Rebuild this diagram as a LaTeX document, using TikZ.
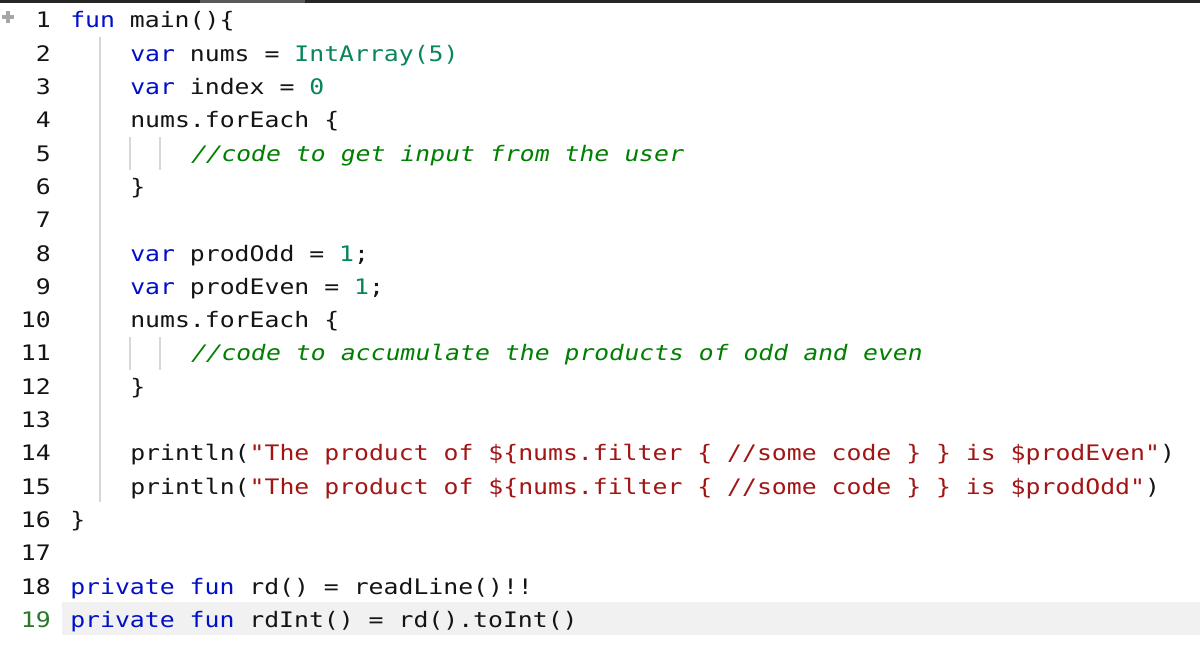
\documentclass[tikz,border=0pt]{standalone}
\usepackage{fontspec}
\newfontfamily\codefont[FakeStretch=1.162,WordSpace={1,0,0}]{DejaVu Sans Mono}
\newfontfamily\codeit[FakeStretch=1.162,WordSpace={1,0,0},FakeSlant=0.2]{DejaVu Sans Mono}
\definecolor{kw}{RGB}{0,16,200}
\definecolor{tl}{RGB}{9,134,88}
\definecolor{cm}{RGB}{0,128,0}
\definecolor{st}{RGB}{163,21,21}
\definecolor{tx}{RGB}{20,20,20}
\definecolor{guide}{RGB}{215,215,215}
\definecolor{hl}{RGB}{241,241,241}
\newcommand{\K}[1]{\textcolor{kw}{#1}}
\newcommand{\T}[1]{\textcolor{tl}{#1}}
\newcommand{\C}[1]{\textcolor{cm}{\codeit #1}}
\newcommand{\St}[1]{\textcolor{st}{#1}}
\tikzset{code/.style={anchor=base west,inner sep=0pt,font=\codefont\fontsize{16}{18}\selectfont,text=tx},
 lnum/.style={anchor=base east,inner sep=0pt,font=\codefont\fontsize{16}{18}\selectfont,text=tx}}
\begin{document}
\begin{tikzpicture}[x=0.75pt,y=-0.75pt]
\useasboundingbox (0,0) rectangle (1200,652);
\fill[white] (0,0) rectangle (1200,652);
\fill[black!85] (0,0) rectangle (1200,3);
\fill[black!65] (200,0) rectangle (305,3);
\fill[hl] (62,602) rectangle (1200,635);
\draw[gray!70,line width=2.5pt] (2,17) -- (14,17) (8,11) -- (8,23);
\draw[guide,line width=1pt] (100,37) -- (100,502);
\foreach \yy in {137,337}{\draw[guide,line width=1pt] (130,\yy) -- (130,\yy+33) (160,\yy) -- (160,\yy+33);}
\foreach \n in {1,...,18}{\node[lnum] (n\n) at (51,{28+(\n-1)*33.3}) {\n};}
\node[lnum,text={rgb,255:red,40;green,120;blue,40}] (n19) at (51,{28+18*33.3}) {19};
\newcommand{\yl}[1]{28+(#1-1)*33.3}
\node[code] (l1) at (70,{\yl{1}}) {\K{fun} main()\{};
\node[code] (l2) at (130,{\yl{2}}) {\K{var} nums = \T{IntArray(5)}};
\node[code] (l3) at (130,{\yl{3}}) {\K{var} index = \T{0}};
\node[code] (l4) at (130,{\yl{4}}) {nums.forEach \{};
\node[code] (l5) at (190,{\yl{5}}) {\C{//code to get input from the user}};
\node[code] (l6) at (130,{\yl{6}}) {\}};
\node[code] (l8) at (130,{\yl{8}}) {\K{var} prodOdd = \T{1};};
\node[code] (l9) at (130,{\yl{9}}) {\K{var} prodEven = \T{1};};
\node[code] (l10) at (130,{\yl{10}}) {nums.forEach \{};
\node[code] (l11) at (190,{\yl{11}}) {\C{//code to accumulate the products of odd and even}};
\node[code] (l12) at (130,{\yl{12}}) {\}};
\node[code] (l14) at (130,{\yl{14}}) {println(\St{"The product of \$\{nums.filter \{ //some code \} \} is \$prodEven"})};
\node[code] (l15) at (130,{\yl{15}}) {println(\St{"The product of \$\{nums.filter \{ //some code \} \} is \$prodOdd"})};
\node[code] (l16) at (70,{\yl{16}}) {\}};
\node[code] (l18) at (70,{\yl{18}}) {\K{private} \K{fun} rd() = readLine()!!};
\node[code] (l19) at (70,{\yl{19}}) {\K{private} \K{fun} rdInt() = rd().toInt()};
\end{tikzpicture}
\end{document}
